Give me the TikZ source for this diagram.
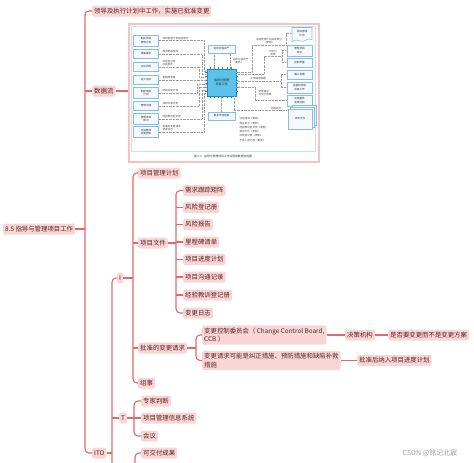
\documentclass[tikz,border=0pt]{standalone}
\usepackage{fontspec}
\newfontfamily\cjk{Noto Sans CJK SC}
\usetikzlibrary{calc,arrows.meta}
\definecolor{mmfill}{HTML}{F8D6D6}
\definecolor{mmtext}{HTML}{5E2020}
\definecolor{connc}{HTML}{E4676C}
\definecolor{figpink}{HTML}{F6C2C2}
\definecolor{figinner}{HTML}{C6E3F3}
\definecolor{figblue}{HTML}{86BDE6}
\definecolor{figfill}{HTML}{F3F9FD}
\definecolor{ctrfill}{HTML}{5BC3EA}
\definecolor{ctrdraw}{HTML}{1F86C6}
\begin{document}
\begin{tikzpicture}[x=1pt,y=-1pt,
  mmbase/.style={fill=mmfill, rounded corners=2pt, text=mmtext, font=\cjk\fontsize{6.4}{8.5}\selectfont, inner xsep=2pt, inner ysep=2.3pt, anchor=west},
  mm/.style={mmbase, text height=5.2pt, text depth=1.2pt},
  mmtwo/.style={mmbase, align=left},
  conn/.style={draw=connc, line width=1.1pt, rounded corners=4pt},
  fb/.style={draw=figblue, fill=figfill, line width=0.6pt, inner sep=0.4pt, font=\cjk\fontsize{2.6}{3.1}\selectfont, align=center, minimum width=25pt, minimum height=9pt, text=black!80},
  fl/.style={font=\cjk\fontsize{2.6}{3.1}\selectfont, text=black!70, align=left, inner sep=0.3pt},
  dl/.style={draw=black!38, line width=0.3pt, dash pattern=on 0.7pt off 0.7pt, -{Stealth[length=1.3pt,width=1.1pt]}},
  dln/.style={draw=black!38, line width=0.3pt, dash pattern=on 0.7pt off 0.7pt},
  tickm/.style={draw=ctrdraw, line width=0.4pt}]
\useasboundingbox (0,0) rectangle (474,463);
\clip (0,0) rectangle (474,463);

% trunk coordinates
\coordinate (tR) at (85,0);
\coordinate (tI) at (112,0);
\coordinate (tIi) at (133,0);
\coordinate (tPD) at (176,0);
\coordinate (tACR) at (196,0);
\coordinate (tT) at (134,0);
\coordinate (oA) at (112,490);
\coordinate (oB) at (135,490);

% mind map nodes
\node[mm] (root) at (3,229) {8.5 指导与管理项目工作};
\node[mm] (lead) at (92,11) {领导及执行计划中工作，实施已批准变更};
\node[mm] (df) at (92,91) {数据流};
\node[mm] (ito) at (92,453) {ITO};
\node[mm] (I) at (117,278) {I};
\node[mm] (T) at (119,418) {T};
\node[mm] (pmp) at (138,173) {项目管理计划};
\node[mm] (pd) at (138,243) {项目文件};
\node[mm] (acr) at (138,348) {批准的变更请求};
\node[mm] (oe) at (138,383) {组事};
\node[mm] (d1) at (183,190.5) {需求跟踪矩阵};
\node[mm] (d2) at (183,207.5) {风险登记册};
\node[mm] (d3) at (183,224.5) {风险报告};
\node[mm] (d4) at (183,242) {里程碑清单};
\node[mm] (d5) at (183,259.5) {项目进度计划};
\node[mm] (d6) at (183,277) {项目沟通记录};
\node[mm] (d7) at (183,295) {经验教训登记册};
\node[mm] (d8) at (183,313) {变更日志};
\node[mmtwo] (ccb) at (202,335) {变更控制委员会（ Change Control Board,\\CCB ）};
\node[mmtwo] (cr) at (202,360.5) {变更请求可能是纠正措施、预防措施和缺陷补救\\措施};
\node[mm] (dec) at (345,335) {决策机构};
\node[mm] (wh) at (388,335) {是否要变更而不是变更方案};
\node[mm] (apr) at (357,360.5) {批准后纳入项目进度计划};
\node[mm] (ej) at (141,401) {专家判断};
\node[mm] (pmis) at (141,418) {项目管理信息系统};
\node[mm] (mt) at (141,436) {会议};
\node[mm] (deliv) at (141,453) {可交付成果};

% mind map connectors
\draw[conn] (lead.west) -| (root.east -| tR) |- (ito.west);
\draw[conn] (root.east) -- (root.east -| tR);
\draw[conn] (df.west) -- (df.west -| tR);
\draw[conn] (I.west) -| (oA);
\draw[conn] (T.west) -- (T.west -| tI);
\draw[conn] (ito.east) -- (ito.east -| tI);
\draw[conn] (pmp.west) -| (I.east -| tIi) |- (oe.west);
\draw[conn] (I.east) -- (I.east -| tIi);
\draw[conn] (pd.west) -- (pd.west -| tIi);
\draw[conn] (acr.west) -- (acr.west -| tIi);
\draw[conn] (d1.west) -| (pd.east -| tPD) |- (d8.west);
\draw[conn] (pd.east) -- (pd.east -| tPD);
\foreach \n in {d2,d3,d4,d5,d6,d7} \draw[conn] (\n.west) -- (\n.west -| tPD);
\draw[conn] (ccb.west) -| (acr.east -| tACR) |- (cr.west);
\draw[conn] (acr.east) -- (acr.east -| tACR);
\draw[conn] (ccb.east) -- (dec.west);
\draw[conn] (dec.east) -- (wh.west);
\draw[conn] (cr.east) -- (apr.west);
\draw[conn] (ej.west) -| (T.east -| tT) |- (mt.west);
\draw[conn] (T.east) -- (T.east -| tT);
\draw[conn] (pmis.west) -- (pmis.west -| tT);
\draw[conn] (oB) |- (deliv.west);

% embedded data flow figure
\node[draw=figpink, line width=1.6pt, fill=white, minimum width=190pt, minimum height=138pt, anchor=north west, inner sep=0pt] (fig) at (128,23) {};
\draw[conn] (df.east) -- (df.east -| fig.west);
\draw[draw=figinner, line width=0.5pt] (131,26) rectangle (315,151);

% left process boxes
\node[fb, minimum height=11pt] (L1) at (146,40.5) {制定项目\\管理计划};
\node[fb] (L2) at (146,54) {收集需求};
\node[fb] (L3) at (146,67) {识别风险};
\node[fb] (L4) at (146,80) {定义活动};
\node[fb, minimum height=11pt] (L5) at (146,93) {制定进度\\计划};
\node[fb] (L6) at (146,106) {管理沟通};
\node[fb, minimum height=11pt] (L7) at (146,119) {管理项目\\知识};
\node[fb, minimum height=11pt] (L8) at (146,132) {实施整体\\变更控制};

% center process
\node[draw=ctrdraw, fill=ctrfill, line width=0.6pt, minimum width=29pt, minimum height=27pt, font=\cjk\fontsize{3}{3.6}\selectfont, align=center, text=black!85] (ctr) at (221.5,82.5) {指导与管理\\项目工作};
\foreach \t in {0.12,0.26,...,0.9} {
  \draw[tickm] ($(ctr.north west)!\t!(ctr.south west)$) -- ++(-1.3,0);
  \draw[tickm] ($(ctr.north east)!\t!(ctr.south east)$) -- ++(1.3,0);
  \draw[tickm] ($(ctr.north west)!\t!(ctr.north east)$) -- ++(0,-1.3);
  \draw[tickm] ($(ctr.south west)!\t!(ctr.south east)$) -- ++(0,1.3);
}
\node[fb, minimum width=27pt, minimum height=8pt] (opa) at (221.5,49) {组织过程资产};
\node[fb, minimum width=27pt, minimum height=8pt] (eef) at (221.5,116) {事业环境因素};

% left labels
\node[fl, anchor=south west] (la1) at (162,40) {项目管理计划组成部分};
\node[fl, anchor=south west] (la2) at (162,53.5) {需求跟踪矩阵};
\node[fl, anchor=south west] (la3) at (162,66.5) {风险登记册\\风险报告};
\node[fl, anchor=south west] (la4) at (162,79.5) {里程碑清单};
\node[fl, anchor=south west] (la5) at (162,92.5) {项目进度计划};
\node[fl, anchor=south west] (la6) at (162,105.5) {项目沟通记录};
\node[fl, anchor=south west] (la7) at (162,118.5) {经验教训登记册};
\node[fl, anchor=south west] (la8) at (162,131.5) {批准的变更请求\\变更日志};

% left dashed connectors
\draw[dl] (L1.east) -| ($(ctr.west)+(-2.5,-11.5)$) -- ($(ctr.west)+(0,-11.5)$);
\draw[dl] (L2.east) -| ($(ctr.west)+(-5,-8.5)$) -- ($(ctr.west)+(0,-8.5)$);
\draw[dl] (L3.east) -| ($(ctr.west)+(-7.5,-5.5)$) -- ($(ctr.west)+(0,-5.5)$);
\draw[dl] (L4.east) -- (L4.east -| ctr.west);
\draw[dl] (L5.east) -| ($(ctr.west)+(-10,1.5)$) -- ($(ctr.west)+(0,1.5)$);
\draw[dl] (L6.east) -| ($(ctr.west)+(-7.5,4.5)$) -- ($(ctr.west)+(0,4.5)$);
\draw[dl] (L7.east) -| ($(ctr.west)+(-5,7.5)$) -- ($(ctr.west)+(0,7.5)$);
\draw[dl] (L8.east) -| ($(ctr.west)+(-2.5,10.5)$) -- ($(ctr.west)+(0,10.5)$);
\draw[dl] (opa.south -| 214,0) -- (ctr.north -| 214,0);
\draw[dl] (ctr.north -| 230,0) -- (opa.south -| 230,0);
\draw[dl] (eef.north) -- (ctr.south);
\node[fl, anchor=west] (opau) at (232.5,61) {组织过程资产\\（更新）};

% right targets
\draw[draw=figblue, fill=figfill, line width=0.6pt] (292,27.5) -- (312,27.5) -- (312,39.5) .. controls (307,37) and (305,43) .. (300,41) .. controls (296,39.5) and (294,40) .. (292,41.5) -- cycle;
\node[fl, align=center, text=black!80, minimum width=20pt, minimum height=11pt] (pmpd) at (302,33.5) {项目管理\\计划};
\node[fb, minimum height=11pt] (R1) at (299.5,50.5) {管理项目\\知识};
\node[fb] (R2) at (299.5,62.5) {控制质量};
\node[fb] (R3) at (299.5,74.5) {确认范围};
\node[fb, minimum height=11pt] (R4) at (299.5,87.5) {监督和控制\\项目工作};
\node[fb, minimum height=11pt] (R5) at (299.5,100.5) {实施整体\\变更控制};

% project document stack
\draw[draw=figblue, fill=figfill, line width=0.5pt] (292,105) rectangle (316,125);
\draw[draw=figblue, fill=figfill, line width=0.5pt] (290,107) rectangle (314,127);
\node[fb, minimum width=24pt, minimum height=20pt] (stk) at (300,119) {项目文件};

% right connectors and labels
\draw[dl] (ctr.east |- 0,72.5) -- (252,72.5) -- (252,45) -- (286,45) |- (pmpd.west);
\node[fl, anchor=south, align=center] (lpu) at (269,44.3) {项目管理计划组成部分\\（更新）};
\draw[dln] (ctr.east |- 0,74) -- (264,74) -- (264,56.5) -- (282,56.5);
\draw[dln] (282,50.5) -- (282,62.5);
\draw[dl] (R1.west -| 282,0) -- (R1.west);
\draw[dl] (R2.west -| 282,0) -- (R2.west);
\node[fl, anchor=south, align=center] (ldel) at (273,56) {可交付\\成果};
\draw[dln] (ctr.east |- 0,81) -- (281,81);
\draw[dln] (281,74.5) -- (281,87.5);
\draw[dl] (R3.west -| 281,0) -- (R3.west);
\draw[dl] (R4.west -| 281,0) -- (R4.west);
\node[fl, anchor=south] (lwpd) at (258,80.5) {工作绩效数据};
\draw[dl] (ctr.east |- 0,87) -- (255,87) |- (R5.west);
\node[fl, anchor=west] (lcr) at (258,93) {变更请求\\可交付成果};
\draw[dl] (ctr.south -| 234,0) -- (234,110.5) -- (stk.west |- 0,110.5);
\node[fl, anchor=south] (lil) at (276,110) {问题日志};
\node[fl, anchor=north west, font=\cjk\fontsize{2.6}{4.3}\selectfont] (lst) at (239,117) {活动清单（更新）\\假设日志（更新）\\经验教训登记册（更新）\\需求文件（更新）\\风险登记册（更新）\\干系人登记册（更新）};
\node[fl, font=\cjk\fontsize{2.8}{3.3}\selectfont, text=black!80] (cap) at (223,156) {图 4-3\quad 指导与管理项目工作过程的数据流向图};

% watermark
\node[font=\cjk\fontsize{7}{8}\selectfont, text=black!38] (wm) at (430,453) {CSDN @铭记北宸};
\end{tikzpicture}
\end{document}
